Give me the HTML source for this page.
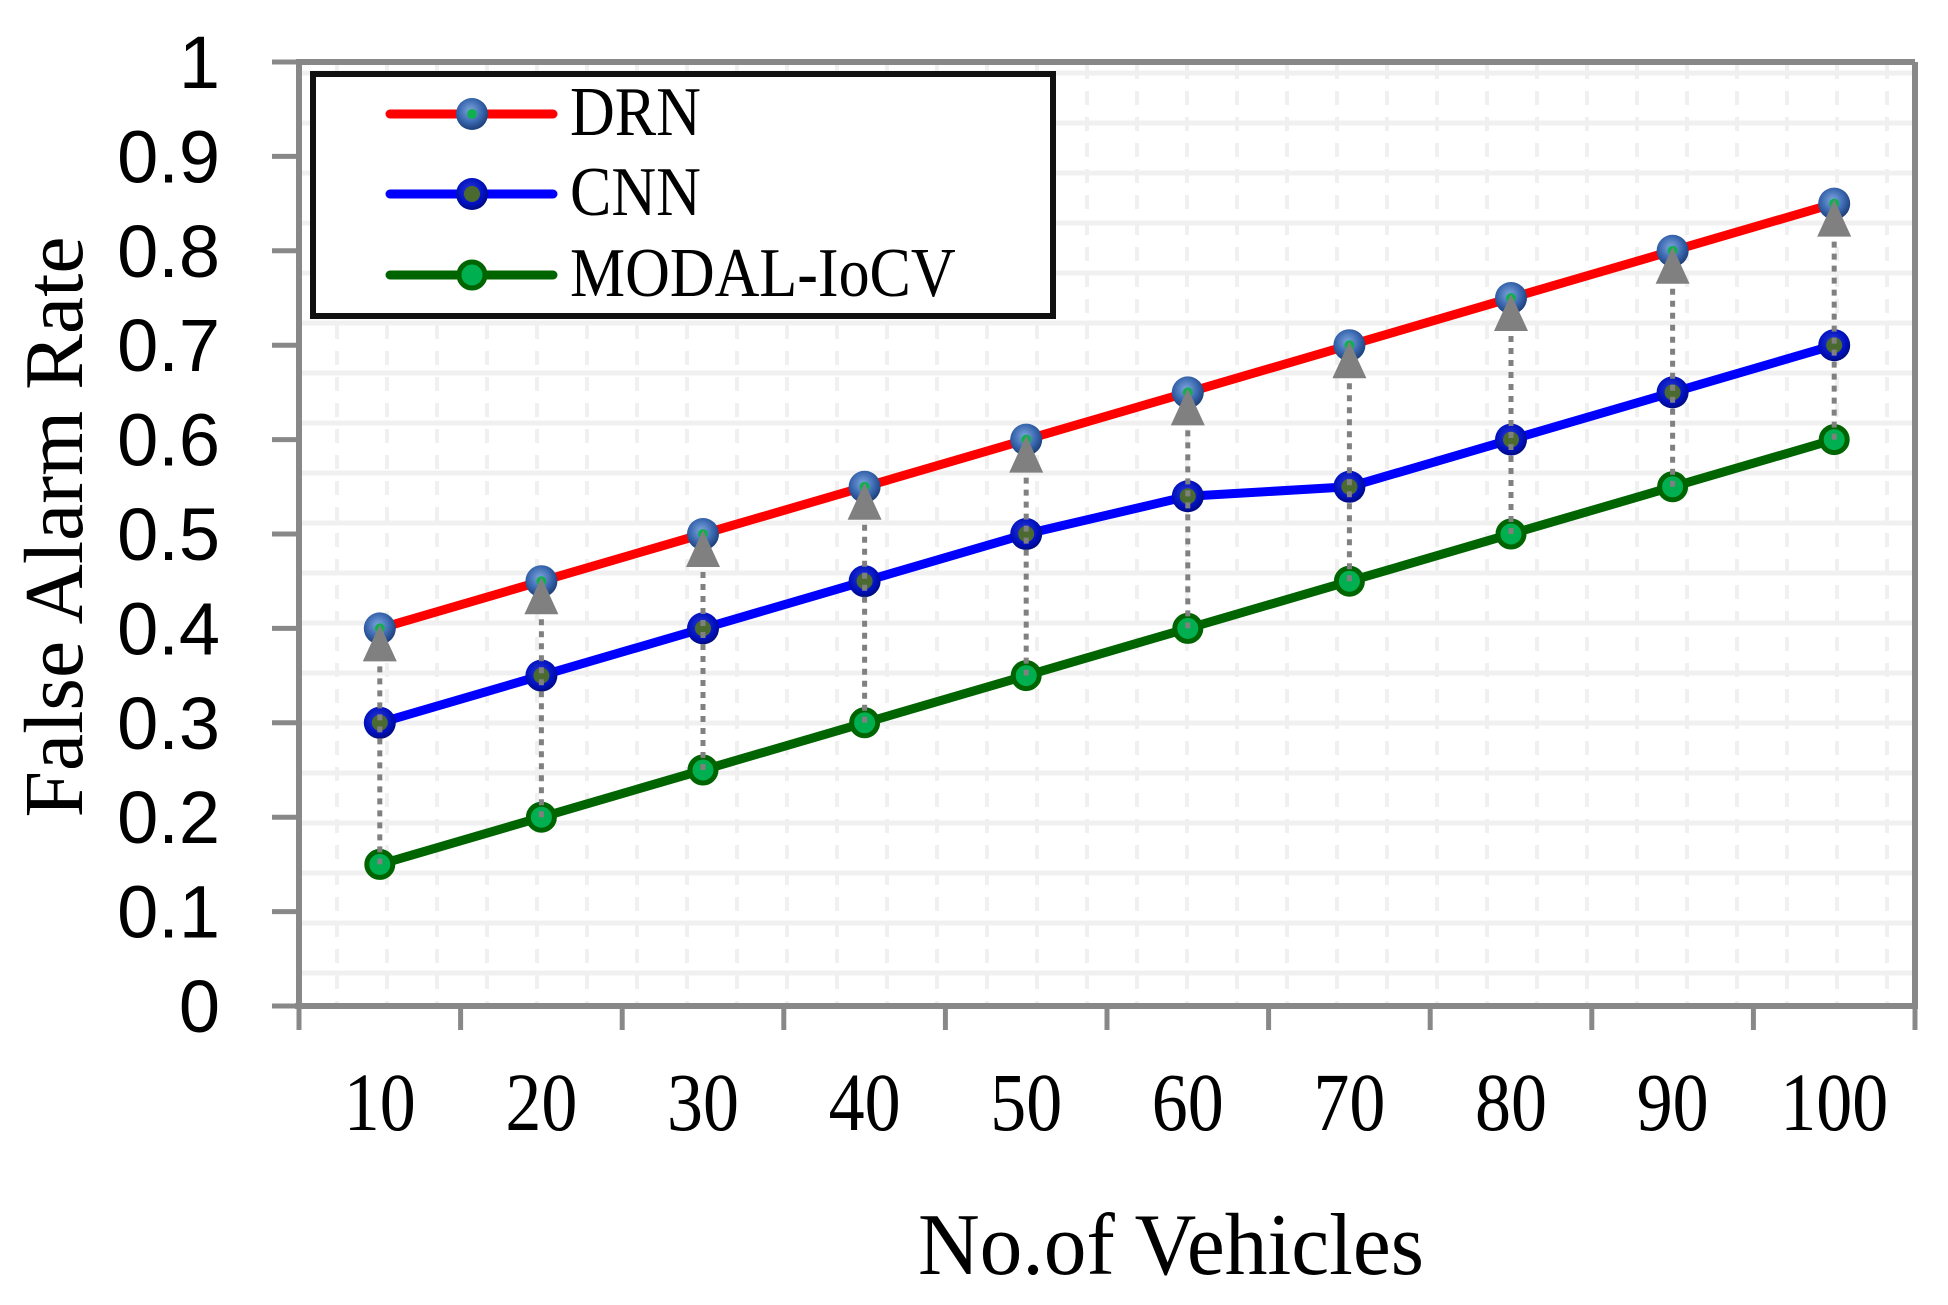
<!DOCTYPE html>
<html><head><meta charset="utf-8"><style>html,body{margin:0;padding:0;background:#fff}svg{display:block}</style></head>
<body>
<svg width="1948" height="1305" viewBox="0 0 1948 1305" xmlns="http://www.w3.org/2000/svg">
<defs>
<radialGradient id="gd" cx="45%" cy="40%" r="60%"><stop offset="0" stop-color="#7fa7dd"/><stop offset="0.6" stop-color="#3a68b0"/><stop offset="1" stop-color="#1d3e78"/></radialGradient>
<radialGradient id="gc" cx="45%" cy="40%" r="60%"><stop offset="0" stop-color="#2a3ad0"/><stop offset="0.7" stop-color="#0010c0"/><stop offset="1" stop-color="#000a80"/></radialGradient>
</defs>
<g id="grid" stroke="#f0f0f0">
</g>
<script>
(function(){
var ns="http://www.w3.org/2000/svg",svg=document.currentScript.parentNode;
function el(t,a,p){var e=document.createElementNS(ns,t);for(var k in a)e.setAttribute(k,a[k]);(p||svg).appendChild(e);return e;}
var g=document.getElementById('grid');
for(var y=323;y<1000;y+=50){el('line',{x1:302,x2:1912,y1:y,y2:y,'stroke-width':5},g);}
for(var y=73;y<323;y+=50){el('line',{x1:302,x2:1912,y1:y,y2:y,'stroke-width':5},g);}
for(var x=337;x<1912;x+=50){el('line',{x1:x,x2:x,y1:65,y2:1003,'stroke-width':4,'stroke-dasharray':'14 12'},g);}
var X0=299,X1=1915,Y0=1006,Y1=62;
function px(i){return X0+80.8+161.6*i;}
function py(v){return Y0-v*(Y0-Y1);}
el('line',{x1:X0,y1:Y1,x2:X1,y2:Y1,stroke:'#888','stroke-width':6});
el('line',{x1:X1,y1:Y1,x2:X1,y2:Y0,stroke:'#888','stroke-width':6});
el('line',{x1:X0,y1:Y1-3,x2:X0,y2:Y0+3,stroke:'#888','stroke-width':6});
el('line',{x1:X0-4,y1:Y0,x2:X1+3,y2:Y0,stroke:'#888','stroke-width':6});
for(var k=0;k<=10;k++){var y=py(k/10);el('line',{x1:272,x2:X0,y1:y,y2:y,stroke:'#888','stroke-width':5});
 var t=el('text',{x:220,y:y+26,'font-family':'Liberation Sans, sans-serif','font-size':74,'text-anchor':'end',fill:'#000'});t.textContent=(k==10?'1':k==0?'0':'0.'+k);}
for(var k=0;k<=10;k++){var x=X0+161.6*k;el('line',{x1:x,x2:x,y1:Y0,y2:1030,stroke:'#888','stroke-width':5});}
var labs=[10,20,30,40,50,60,70,80,90,100];
for(var i=0;i<10;i++){var t=el('text',{x:0,y:0,transform:'translate('+px(i)+',1130) scale(1,1.15)','font-family':'Liberation Serif, serif','font-size':72,'text-anchor':'middle',fill:'#000'});t.textContent=labs[i];}
var drn=[],cnn=[0.3,0.35,0.4,0.45,0.5,0.54,0.55,0.6,0.65,0.7],mod=[];
for(var i=0;i<10;i++){drn.push(0.4+0.05*i);mod.push(0.15+0.05*i);}
function line(d,c){var s='';for(var i=0;i<10;i++)s+=(i?'L':'M')+px(i)+' '+py(d[i]);el('path',{d:s,fill:'none',stroke:c,'stroke-width':9,'stroke-linejoin':'round'});}
line(drn,'#ff0000');line(cnn,'#0000ff');line(mod,'#006400');
function mD(x,y){el('circle',{cx:x,cy:y,r:16,fill:'url(#gd)'});el('circle',{cx:x,cy:y,r:5,fill:'#10b050'});}
function mC(x,y){el('circle',{cx:x,cy:y,r:16,fill:'url(#gc)'});el('circle',{cx:x,cy:y,r:8,fill:'#4a6a30'});}
function mM(x,y){el('circle',{cx:x,cy:y,r:13,fill:'#00b050',stroke:'#006400','stroke-width':5});}
for(var i=0;i<10;i++){mD(px(i),py(drn[i]));mC(px(i),py(cnn[i]));mM(px(i),py(mod[i]));}
for(var i=0;i<10;i++){var x=px(i),yt=py(drn[i]);
 el('line',{x1:x,x2:x,y1:py(mod[i]),y2:yt+38,stroke:'#808080','stroke-width':5,'stroke-dasharray':'6 6'});
 el('path',{d:'M'+x+' '+(yt-4)+'L'+(x+17)+' '+(yt+33)+'L'+(x-17)+' '+(yt+33)+'Z',fill:'#808080'});}
el('rect',{x:313,y:74,width:740,height:242,fill:'#fff',stroke:'#111','stroke-width':6});
var ly=[114,194,275],cols=['#ff0000','#0000ff','#006400'],nm=['DRN','CNN','MODAL-IoCV'];
for(var j=0;j<3;j++){el('line',{x1:390,x2:553,y1:ly[j],y2:ly[j],stroke:cols[j],'stroke-width':9,'stroke-linecap':'round'});
 [mD,mC,mM][j](472,ly[j]);
 var t=el('text',{x:0,y:0,transform:'translate(570,'+(ly[j]+21)+') scale(1,1.12)','font-family':'Liberation Serif, serif','font-size':62,fill:'#000'});t.textContent=nm[j];}
var t=el('text',{x:0,y:0,transform:'translate(82,527) rotate(-90)','font-family':'Liberation Serif, serif','font-size':84,'text-anchor':'middle',textLength:581,lengthAdjust:'spacingAndGlyphs',fill:'#000'});t.textContent='False Alarm Rate';
var t=el('text',{x:1171,y:1274,'font-family':'Liberation Serif, serif','font-size':88,'text-anchor':'middle',textLength:506,lengthAdjust:'spacingAndGlyphs',fill:'#000'});t.textContent='No.of Vehicles';
})();
</script>
</svg>
</body></html>
